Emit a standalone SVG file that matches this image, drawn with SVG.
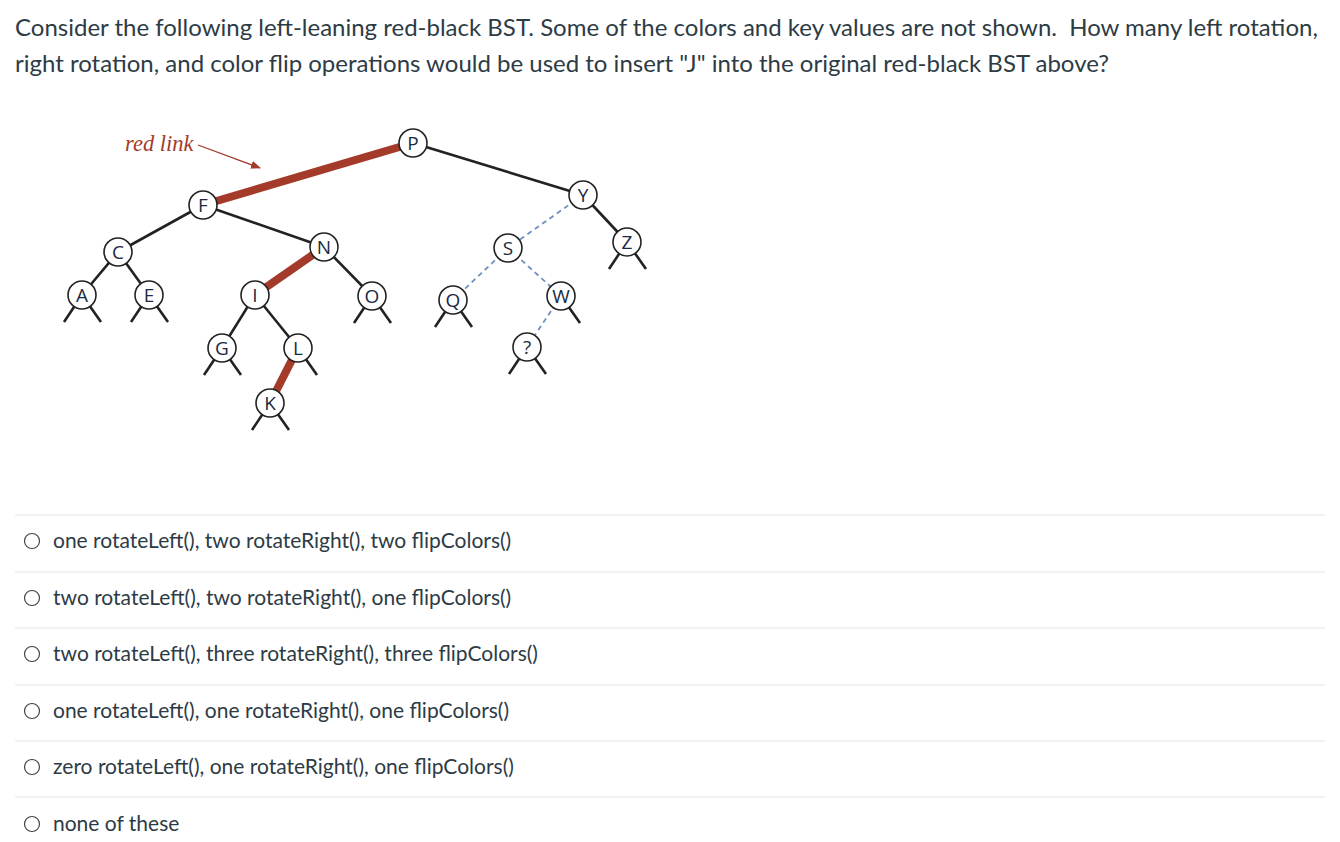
<svg xmlns="http://www.w3.org/2000/svg" width="1340" height="842" viewBox="0 0 1340 842">
<style>
.t{font-family:Lato,"Open Sans",sans-serif;font-size:24px;fill:#2d3b45}
.o{font-family:Lato,"Open Sans",sans-serif;font-size:21px;fill:#2d3b45}
.n circle{fill:#fff;stroke:#222;stroke-width:1.6}
.n text{font-family:"Open Sans","DejaVu Sans",sans-serif;font-size:19px;fill:#1a2a40;text-anchor:middle}
.e{stroke:#222;stroke-width:2.6;fill:none}
.r{stroke:#a33a2a;stroke-width:8;fill:none}
.d{stroke:#6f8fc0;stroke-width:1.8;stroke-dasharray:5 4;fill:none}
.sep{stroke:#e2e4e6;stroke-width:1}
.rb{fill:#fff;stroke:#444;stroke-width:1.2}
</style>
<defs><marker id="ah" markerWidth="10" markerHeight="8" refX="9" refY="4" orient="auto" markerUnits="userSpaceOnUse"><path d="M0,0 L10,4 L0,8 z" fill="#a33a2a"/></marker></defs>
<text class="t" x="15" y="36">Consider the following left-leaning red-black BST. Some of the colors and key values are not shown.&#160; How many left rotation,</text>
<text class="t" x="15" y="72">right rotation, and color flip operations would be used to insert "J" into the original red-black BST above?</text>
<text x="125" y="151" font-family="'Liberation Serif',serif" font-style="italic" font-size="22.5" fill="#a33a2a">red link</text>
<line x1="198" y1="145" x2="260" y2="168" stroke="#a33a2a" stroke-width="1.3" marker-end="url(#ah)"/>
<g id="connectors">
<line class="r" x1="203" y1="205" x2="413" y2="143"/>
<line class="e" x1="413" y1="143" x2="583" y2="195"/>
<line class="e" x1="203" y1="205" x2="118" y2="252"/>
<line class="e" x1="203" y1="205" x2="324" y2="247"/>
<line class="e" x1="118" y1="252" x2="82" y2="295"/>
<line class="e" x1="118" y1="252" x2="149" y2="295"/>
<line class="r" x1="324" y1="247" x2="255" y2="295"/>
<line class="e" x1="324" y1="247" x2="372" y2="296"/>
<line class="e" x1="255" y1="295" x2="222" y2="348"/>
<line class="e" x1="255" y1="295" x2="298" y2="348"/>
<line class="r" x1="298" y1="348" x2="270" y2="403"/>
<line class="e" x1="583" y1="195" x2="627" y2="242"/>
<line class="d" x1="583" y1="195" x2="508" y2="248"/>
<line class="d" x1="508" y1="248" x2="453" y2="300"/>
<line class="d" x1="508" y1="248" x2="561" y2="296"/>
<line class="d" x1="561" y1="296" x2="527" y2="347"/>
<path class="e" d="M82,295 l-18,27 M82,295 l19,27 M149,295 l-18,27 M149,295 l19,27 M222,348 l-18,27 M222,348 l19,27 M298,348 l19,27 M270,403 l-18,27 M270,403 l19,27 M372,296 l-18,27 M372,296 l19,27 M453,300 l-18,27 M453,300 l19,27 M561,296 l19,27 M527,347 l-18,27 M527,347 l19,27 M627,242 l-18,27 M627,242 l19,27"/>
</g>
<g id="n-P" class="n"><circle cx="413" cy="143" r="14"/><text x="413" y="150">P</text></g>
<g id="n-F" class="n"><circle cx="203" cy="205" r="14"/><text x="203" y="212">F</text></g>
<g id="n-C" class="n"><circle cx="118" cy="252" r="14"/><text x="118" y="259">C</text></g>
<g id="n-A" class="n"><circle cx="82" cy="295" r="14"/><text x="82" y="302">A</text></g>
<g id="n-E" class="n"><circle cx="149" cy="295" r="14"/><text x="149" y="302">E</text></g>
<g id="n-N" class="n"><circle cx="324" cy="247" r="14"/><text x="324" y="254">N</text></g>
<g id="n-I" class="n"><circle cx="255" cy="295" r="14"/><text x="255" y="302">I</text></g>
<g id="n-G" class="n"><circle cx="222" cy="348" r="14"/><text x="222" y="355">G</text></g>
<g id="n-L" class="n"><circle cx="298" cy="348" r="14"/><text x="298" y="355">L</text></g>
<g id="n-K" class="n"><circle cx="270" cy="403" r="14"/><text x="270" y="410">K</text></g>
<g id="n-O" class="n"><circle cx="372" cy="296" r="14"/><text x="372" y="303">O</text></g>
<g id="n-Y" class="n"><circle cx="583" cy="195" r="14"/><text x="583" y="202">Y</text></g>
<g id="n-S" class="n"><circle cx="508" cy="248" r="14"/><text x="508" y="255">S</text></g>
<g id="n-Z" class="n"><circle cx="627" cy="242" r="14"/><text x="627" y="249">Z</text></g>
<g id="n-Q" class="n"><circle cx="453" cy="300" r="14"/><text x="453" y="307">Q</text></g>
<g id="n-W" class="n"><circle cx="561" cy="296" r="14"/><text x="561" y="303">W</text></g>
<g id="n-q" class="n"><circle cx="527" cy="347" r="14"/><text x="527" y="354">?</text></g>
<line class="sep" x1="15" y1="515" x2="1325" y2="515"/>
<line class="sep" x1="15" y1="572" x2="1325" y2="572"/>
<line class="sep" x1="15" y1="628" x2="1325" y2="628"/>
<line class="sep" x1="15" y1="685" x2="1325" y2="685"/>
<line class="sep" x1="15" y1="741" x2="1325" y2="741"/>
<line class="sep" x1="15" y1="797" x2="1325" y2="797"/>
<circle class="rb" cx="32" cy="541" r="7.5"/><text class="o" x="53" y="548">one rotateLeft(), two rotateRight(), two flipColors()</text>
<circle class="rb" cx="32" cy="598" r="7.5"/><text class="o" x="53" y="605">two rotateLeft(), two rotateRight(), one flipColors()</text>
<circle class="rb" cx="32" cy="654" r="7.5"/><text class="o" x="53" y="661">two rotateLeft(), three rotateRight(), three flipColors()</text>
<circle class="rb" cx="32" cy="711" r="7.5"/><text class="o" x="53" y="718">one rotateLeft(), one rotateRight(), one flipColors()</text>
<circle class="rb" cx="32" cy="767" r="7.5"/><text class="o" x="53" y="774">zero rotateLeft(), one rotateRight(), one flipColors()</text>
<circle class="rb" cx="32" cy="824" r="7.5"/><text class="o" x="53" y="831">none of these</text>
</svg>
